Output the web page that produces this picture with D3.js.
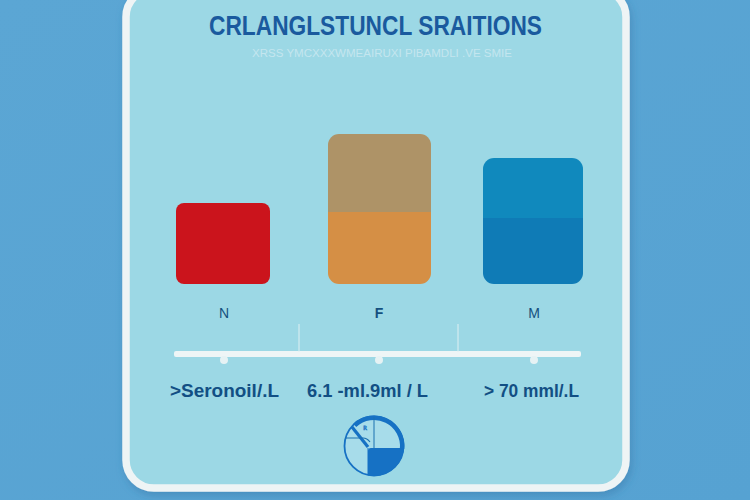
<!DOCTYPE html>
<html><head><meta charset="utf-8">
<style>html,body{margin:0;padding:0;background:#5aa6d6}svg{display:block}</style>
<script src="https://cdn.jsdelivr.net/npm/d3@7"></script></head>
<body><svg id="c" width="750" height="500"></svg>
<script>
const categories = ["N", "F", "M"];
const lowerValues = [81, 72, 66];
const upperValues = [0, 78, 60];
const rangeLabels = [">Seronoil/.L", "6.1 -ml.9ml / L", "> 70 mml/.L"];
const titleText = "CRLANGLSTUNCL SRAITIONS";
const subtitleText = "XRSS YMCXXXWMEAIRUXI PIBAMDLI .VE SMIE";
const lowerColors = ["#cb141c", "#d58f45", "#0f7bb6"];
const upperColors = ["#cb141c", "#ae9367", "#1089bd"];

const svg = d3.select("#c");
const defs = svg.append("defs");
const bg = defs.append("linearGradient").attr("id","bg").attr("x1",0).attr("y1",0).attr("x2",1).attr("y2",1);
bg.append("stop").attr("offset",0).attr("stop-color","#5ba6d4");
bg.append("stop").attr("offset",1).attr("stop-color","#56a2d2");
svg.append("rect").attr("width",750).attr("height",500).attr("fill","url(#bg)");
const sh = defs.append("filter").attr("id","sh").attr("x","-10%").attr("y","-10%").attr("width","120%").attr("height","120%");
sh.append("feDropShadow").attr("dx",2).attr("dy",4).attr("stdDeviation",4).attr("flood-color","#2f6f9f").attr("flood-opacity",0.4);

// panel
svg.append("rect").attr("x",126).attr("y",-11).attr("width",500).attr("height",499)
  .attr("rx",28).attr("fill","#9cd8e5").attr("stroke","#eef4f5").attr("stroke-width",7.5).attr("filter","url(#sh)");

// title
svg.append("text").attr("x",375.5).attr("y",35).attr("text-anchor","middle")
  .attr("font-family","'Liberation Sans Narrow','Liberation Sans',sans-serif").attr("font-weight",700)
  .attr("font-size",27).attr("fill","#1a5a9e")
  .attr("textLength",333).attr("lengthAdjust","spacingAndGlyphs").text(titleText);
svg.append("text").attr("x",382).attr("y",57).attr("text-anchor","middle")
  .attr("font-family","'Liberation Sans Narrow','Liberation Sans',sans-serif")
  .attr("font-size",10).attr("fill","#c4e6ef")
  .attr("textLength",260).attr("lengthAdjust","spacingAndGlyphs").text(subtitleText);

// scales
const x = d3.scalePoint().domain(categories).range([223, 533]);
const y = d3.scaleLinear().domain([0, 150]).range([284, 134]);
const barWidth = {N: 94, F: 103, M: 100};
const nudge = {N: 0, F: 1.5, M: 0};
const rows = categories.map((c,i)=>({c,i,lo:lowerValues[i],up:upperValues[i]}));
const left = d => x(d.c)+nudge[d.c]-barWidth[d.c]/2;

// rounded-bar clip per category
rows.forEach(d=>{
  defs.append("clipPath").attr("id","clip"+d.c).append("rect")
    .attr("x",left(d)).attr("width",barWidth[d.c])
    .attr("y",y(d.lo+d.up)).attr("height",y(0)-y(d.lo+d.up)).attr("rx",d.c==="N"?8:11);
});
const bars = svg.append("g").selectAll("g").data(rows).join("g").attr("clip-path",d=>`url(#clip${d.c})`);
bars.append("rect").attr("x",left).attr("width",d=>barWidth[d.c])
  .attr("y",d=>y(d.lo)).attr("height",d=>y(0)-y(d.lo)).attr("fill",d=>lowerColors[d.i]);
bars.filter(d=>d.up>0).append("rect").attr("x",left).attr("width",d=>barWidth[d.c])
  .attr("y",d=>y(d.lo+d.up)).attr("height",d=>y(d.lo)-y(d.lo+d.up)).attr("fill",d=>upperColors[d.i]);

// category letters
svg.append("g").selectAll("text").data(rows).join("text")
  .attr("x",d=>x(d.c)+1).attr("y",318).attr("text-anchor","middle")
  .attr("font-family","'Liberation Sans',sans-serif").attr("font-size",14).attr("fill","#14507e")
  .attr("font-weight",d=>d.c==="F"?700:400).text(d=>d.c);

// axis
const axisY = 354;
svg.append("rect").attr("x",174).attr("y",axisY-3).attr("width",407).attr("height",6).attr("rx",2).attr("fill","#eef5f6");
svg.append("g").selectAll("line").data([299,458]).join("line")
  .attr("x1",d=>d).attr("x2",d=>d).attr("y1",324).attr("y2",axisY-2)
  .attr("stroke","#dff0f3").attr("stroke-width",1);
svg.append("g").selectAll("circle").data(rows).join("circle")
  .attr("cx",d=>x(d.c)+1).attr("cy",360).attr("r",4).attr("fill","#e6f2f4");

// range labels
const labelX = [224.5, 367.5, 531.5];
const labelW = [109, 121, 95];
svg.append("g").selectAll("text").data(rangeLabels).join("text")
  .attr("x",(d,i)=>labelX[i]).attr("y",397).attr("text-anchor","middle")
  .attr("font-family","'Liberation Sans',sans-serif").attr("font-weight",700).attr("font-size",18).attr("fill","#124f84")
  .attr("textLength",(d,i)=>labelW[i]).attr("lengthAdjust","spacingAndGlyphs").text(d=>d);

// icon
const ic = svg.append("g").attr("transform","translate(374,446)");
const blue = "#1671c4";
defs.append("clipPath").attr("id","disc").append("circle").attr("cx",0).attr("cy",0).attr("r",30);
ic.append("circle").attr("r",29.5).attr("fill","#a7dcea").attr("stroke",blue).attr("stroke-width",1.8);
ic.append("rect").attr("x",-6).attr("y",2).attr("width",40).attr("height",32).attr("rx",3).attr("fill",blue).attr("clip-path","url(#disc)");
ic.append("path").attr("d",d3.arc()({innerRadius:26,outerRadius:30.5,startAngle:-0.75,endAngle:Math.PI/2+0.1})).attr("fill",blue);
ic.append("line").attr("x1",-22).attr("y1",-19).attr("x2",-6).attr("y2",1).attr("stroke",blue).attr("stroke-width",3.2);
ic.append("line").attr("x1",0).attr("y1",-29).attr("x2",0).attr("y2",2).attr("stroke","#1a70b0").attr("stroke-width",1);
ic.append("path").attr("d","M-29,-8H-11Q-7,-8 -4,-4").attr("fill","none").attr("stroke","#1a70b0").attr("stroke-width",1.1);
ic.append("line").attr("x1",-6).attr("y1",2).attr("x2",-6).attr("y2",29).attr("stroke",blue).attr("stroke-width",1);
ic.append("text").attr("x",-9).attr("y",-16).attr("text-anchor","middle").attr("font-family","'Liberation Sans',sans-serif").attr("font-size",6).attr("font-weight",700).attr("fill",blue).text("ℝ");
</script></body></html>
